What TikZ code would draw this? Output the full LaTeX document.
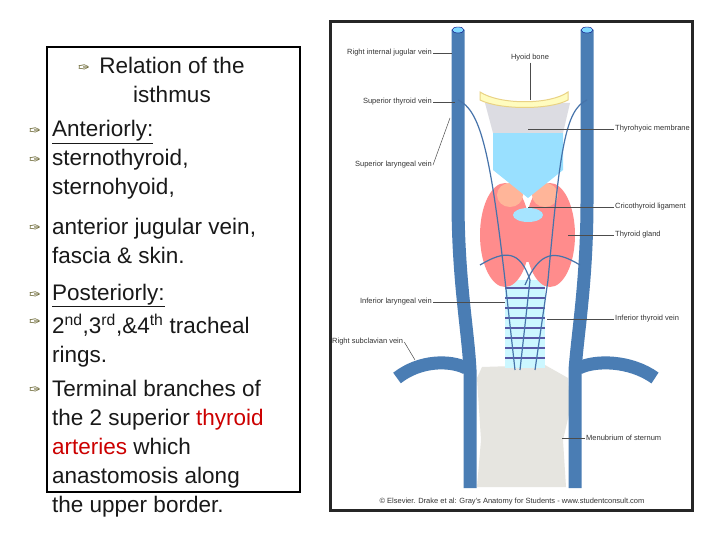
\documentclass[tikz,border=0pt]{standalone}
\usepackage{fontspec}
\setmainfont{Liberation Sans}
\newfontfamily\symf{DejaVu Sans}
\begin{document}
\begin{tikzpicture}[x=1pt,y=-1pt,
  txt/.style={anchor=base west,font=\fontsize{22.5}{22}\selectfont,inner sep=0pt,text=black!90},
  bul/.style={anchor=base west,font=\symf\fontsize{14}{14}\selectfont,inner sep=0pt,text=olive!60!black},
  lab/.style={font=\fontsize{7.5}{8}\selectfont,inner sep=1pt,text=black!80},
  lead/.style={black!70,line width=0.5pt},
  vein/.style={line width=13pt,draw={rgb,255:red,74;green,125;blue,180},line cap=butt},
  small/.style={line width=1.2pt,draw={rgb,255:red,70;green,115;blue,170}}]
\useasboundingbox (0,0) rectangle (720,540);
\fill[white] (0,0) rectangle (720,540);
% text frame
\draw[line width=2pt] (47,47) rectangle (300,492);
\node[bul] (b0) at (78,73) {✑};
\node[anchor=base,font=\fontsize{22.5}{22}\selectfont,text=black!90] (t0) at (172,74) {Relation of the};
\node[anchor=base,font=\fontsize{22.5}{22}\selectfont,text=black!90] (t1) at (172,103) {isthmus};
\foreach \y/\n in {136/1,165/2,233/3,299/4,326/5,394/6}{\node[bul] (bb\n) at (29,\y) {✑};}
\node[txt] (l1) at (52,137) {\underline{Anteriorly:}};
\node[txt] (l2) at (52,166) {sternothyroid,};
\node[txt] (l3) at (52,195) {sternohyoid,};
\node[txt] (l4) at (52,234) {anterior jugular vein,};
\node[txt] (l5) at (52,263) {fascia \& skin.};
\node[txt] (l6) at (52,300) {\underline{Posteriorly:}};
\node[txt] (l7) at (52,333) {2\textsuperscript{nd},3\textsuperscript{rd},\&4\textsuperscript{th} tracheal};
\node[txt] (l8) at (52,362) {rings.};
\node[txt] (l9) at (52,396) {Terminal branches of};
\node[txt] (l10) at (52,425) {the 2 superior \textcolor{red!80!black}{thyroid}};
\node[txt] (l11) at (52,454) {\textcolor{red!80!black}{arteries} which};
\node[txt] (l12) at (52,483) {anastomosis  along};
\node[txt] (l13) at (52,512) {the upper border.};
% image frame
\fill[white] (330,22) rectangle (692,510);
% sternum
\fill[yellow!10!gray!25] (482,367) -- (545,365) -- (568,378) -- (570,410) -- (563,440) -- (566,487) -- (477,487) -- (481,440) -- (477,378) -- cycle;
% veins
\draw[vein] (458,30) -- (458,200) .. controls (458,280) and (468,330) .. (470,370) -- (470,488);
\draw[vein] (587,30) -- (587,200) .. controls (587,280) and (578,330) .. (575,370) -- (575,488);
\draw[vein] (397,378) .. controls (420,360) and (450,360) .. (466,368);
\draw[vein] (655,378) .. controls (630,360) and (595,360) .. (579,368);
\foreach \c in {(458,30),(587,30)} \draw[blue!50!black,fill=blue!30!cyan!50!white] \c ellipse (6 and 3);
% trachea
\fill[blue!15!cyan!20!white] (505,280) rectangle (545,368);
\foreach \y in {288,298,308,318,328,338,348,358} \draw[blue!30!gray,line width=1.2pt] (505,\y) -- (545,\y);
% thyroid gland
\fill[red!45!white] (505,235) ellipse (25 and 52);
\fill[red!45!white] (550,235) ellipse (25 and 52);
\fill[red!45!white] (515,215) rectangle (542,262);
% cartilage
\fill[orange!55!red!40!white] (510,195) ellipse (13 and 12);
\fill[orange!55!red!40!white] (545,195) ellipse (13 and 12);
\fill[blue!30!cyan!35!white] (528,215) ellipse (15 and 7);
\fill[blue!30!cyan!40!white] (493,133) -- (563,133) -- (563,170) -- (528,198) -- (493,170) -- cycle;
\fill[blue!10!gray!25] (485,103) -- (570,103) -- (563,133) -- (493,133) -- cycle;
\draw[yellow!40!brown!60!white,fill=yellow!25!white,line width=1pt] (480,92) .. controls (500,105) and (550,105) .. (568,92) -- (568,100) .. controls (550,110) and (500,110) .. (480,100) -- cycle;
% small veins
\draw[small] (458,100) .. controls (480,110) and (490,150) .. (505,280) -- (515,370);
\draw[small] (587,100) .. controls (565,110) and (560,150) .. (548,280) -- (535,370);
\draw[small] (480,265) .. controls (505,250) and (520,250) .. (530,280);
\draw[small] (580,265) .. controls (555,250) and (540,250) .. (525,285);
\draw[small] (530,280) -- (520,370);
% labels
\node[lab,anchor=east] (n1) at (433,53) {Right internal jugular vein};
\draw[lead] (n1.east) -- (452,53);
\node[lab,anchor=east] (n2) at (433,102) {Superior thyroid vein};
\draw[lead] (n2.east) -- (455,102);
\node[lab,anchor=east] (n3) at (433,165) {Superior laryngeal vein};
\draw[lead] (n3.east) -- (450,118);
\node[lab,anchor=east] (n4) at (433,302) {Inferior laryngeal vein};
\draw[lead] (n4.east) -- (505,302);
\node[lab,anchor=west] (n5) at (331,342) {Right subclavian vein};
\draw[lead] (n5.east) -- (415,360);
\node[lab] (n6) at (530,58) {Hyoid bone};
\draw[lead] (n6.south) -- (530,100);
\node[lab,anchor=west] (n7) at (614,129) {Thyrohyoic membrane};
\draw[lead] (n7.west) -- (528,129);
\node[lab,anchor=west] (n8) at (614,207) {Cricothyroid ligament};
\draw[lead] (n8.west) -- (528,207);
\node[lab,anchor=west] (n9) at (614,235) {Thyroid gland};
\draw[lead] (n9.west) -- (568,235);
\node[lab,anchor=west] (n10) at (614,319) {Inferior thyroid vein};
\draw[lead] (n10.west) -- (547,319);
\node[lab,anchor=west] (n11) at (585,438) {Menubrium of sternum};
\draw[lead] (n11.west) -- (562,438);
\node[lab] (n12) at (512,502) {© Elsevier. Drake et al: Gray's Anatomy for Students - www.studentconsult.com};
\draw[line width=3pt,black!85] (330,22) rectangle (692,510);
\end{tikzpicture}
\end{document}
